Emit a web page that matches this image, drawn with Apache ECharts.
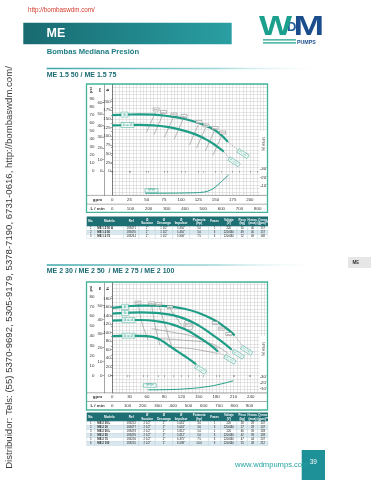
<!DOCTYPE html>
<html><head><meta charset="utf-8">
<script src="https://cdn.jsdelivr.net/npm/echarts/dist/echarts.min.js"></script>
<style>html,body{margin:0;padding:0;background:#fff}#c{width:371px;height:480px}</style>
</head><body><div id="c"></div>
<script>
const FONT='"Liberation Sans", Arial, sans-serif';
const TEAL='#1f9e87', FRAME='#46b49c', GRIDC='#cccccc', DARK='#333';
const FT=3.28084, PSI=1.42233, LPM=3.78541;

// ---------------- Chart 1 : ME 1.5 ----------------
const gpmTicks1=[0,25,50,75,100,125,150,175,200];
const lpmTicks1=[0,100,200,300,400,500,600,700,800];
const psiTicks1=[0,10,20,30,40,50,60,70,80,90];
const mTicks1=[0,10,20,30,40,50,60];
const ftTicks1=[0,25,50,75,100,125,150,175,200];
const npshTicks1=[10,20,30];
const head1_3=[[0,49],[20,49.4],[40,49.6],[60,49.3],[80,48.2],[100,46.3],[120,43.2],[140,38.6],[155,33.2],[168,25.5]];
const head1_12=[[0,40],[20,40.3],[40,40.4],[60,40],[80,38.6],[100,36],[120,32.3],[140,26.4],[152,21.6],[162,17]];
const npsh1=[[48,1.5],[80,1.6],[110,1.9],[130,2.6],[142,5],[150,9],[157,14],[163,18.5],[169,23]];
const tags1=[[17.7,49.4,'3'],[22,40.3,'1 = 2']];
const effBoxes1=[[63.7,53.9,'50%'],[74.4,51.7,'55%'],[89.7,49.5,'60%'],[104.2,48.2,'63%'],[126,42.9,'65%'],[136.2,39.9,'63%'],[149.3,37.7,'60%'],[160.2,33.7,'55%']];
const effLines1=[[[62.7,51.4],[49.7,33.9]],[[73.4,49.2],[60.4,31.7]],[[88.7,47],[75.7,29.5]],[[103.2,45.7],[90.2,28.2]],[[125,40.4],[112,22.9]],[[135.2,37.4],[122.2,19.9]],[[148.3,35.2],[135.3,17.7]],[[159.2,31.2],[146.2,13.7]]];
const impLabels1=[[190,15.2,'Ø 5.906"'],[177,8.1,'Ø 5.450"']];
const leaders1=[[[168,25.5],[185,17.5]],[[162,17],[172,10]]];
const npshTag1=[[57,4.7,'NPSH']];

// ---------------- Chart 2 : ME 2 ----------------
const gpmTicks2=[0,30,60,90,120,150,180,210,240];
const lpmTicks2=[0,100,200,300,400,500,600,700,800,900];
const psiTicks2=[0,10,20,30,40,50,60,70,80];
const mTicks2=[0,10,20,30,40,50];
const ftTicks2=[0,20,40,60,80,100,120,140,160,180];
const npshTicks2=[10,20,30];
const head2_6=[[0,48.2],[25,49.3],[50,49.8],[75,49.8],[100,49.2],[125,47.5],[150,44.5],[175,39.8],[195,34.5],[212,28.5]];
const head2_5=[[0,44],[25,44.6],[50,44.9],[75,44.6],[100,43.3],[125,40.5],[150,35.5],[175,28.5],[195,22.5],[207,18.2]];
const head2_34=[[0,39],[25,39.4],[50,39.5],[75,38.8],[100,36.8],[125,33],[150,27.2],[170,21.5],[183,17]];
const head2_12=[[0,28],[30,28.3],[60,28],[80,26],[97,21.5],[115,16.5],[130,12.5],[145,8]];
const npsh2=[[62,8],[100,8.5],[130,10],[160,13],[185,17.5],[210,24]];
const tags2=[[22,48.9,'6'],[22,44.5,'5'],[28,39.4,'3 = 4'],[28,28.3,'1 = 2']];
const effBoxes2=[[44.5,51.9,'50%'],[68.3,51.4,'55%'],[80.4,50.8,'60%'],[100,48.8,'65%'],[131.7,36.1,'70%'],[178.5,37.4,'65%'],[188.9,33.3,'60%'],[202,29.5,'55%']];
const effLines2=[
 [[45.1,51],[50.9,38.1],[62.4,25]],
 [[68.2,50.5],[74,35.7],[82.7,21.4]],
 [[80.9,50],[91.3,35.7],[102.9,20.2]],
 [[100,47.6],[120.2,35.7]],
 [[68.2,33.3],[102.9,30.9],[143.3,27.4],[183.8,19]],
 [[79.8,26.2],[126,25],[172.2,22.6],[201.1,15.5]],
 [[97.1,20.2],[137.5,19],[183.8,15.5]],
 [[124,36],[126,39],[132,39.8],[138,38],[140,35],[136,32.5],[130,32.5],[125,34],[124,36]]
];
const impLabels2=[[233,17.8,'Ø 6.598"'],[218.4,15,'Ø 6.375"'],[204,11.4,'Ø 5.812"'],[153,4.3,'Ø 5.061"']];
const leaders2=[[[212,28.5],[228,19.5]],[[207,18.2],[213,16]],[[183,17],[199,12.8]],[[145,8],[149,5.5]]];
const npshTag2=[[65,15.6,'NPSH']];

// ---------------- Tables ----------------
const tableHeaders=['No.','Modelo','Ref','Ø\nSuccion','Ø\nDescarga','Ø\nImpulsor','Potencia\n(hp)','Fases','Voltaje\n(V)','Peso\n(kg)','H max.\n(mca)','Q max\n(gpm)**'];
const models1=['ME 1.5 50 A','ME 1.5 50','ME 1.5 75'];
const refs1=['183471','183470','183261'];
const suction1=['2"','2"','2"'];
const discharge1=['1 1/2"','1 1/2"','1 1/2"'];
const impeller1=['5.450"','5.450"','5.906"'];
const hp1=['5.0','5.0','7.5'];
const phases1=['1','3','3'];
const volts1=['220','220/440','220/440'];
const kg1=['50','49','52'];
const hmax1=['40','40','49'];
const qmax1=['157','157','168'];
const models2=['ME 2 30 L','ME 2 30','ME 2 50 L','ME 2 50','ME 2 75','ME 2 100'];
const refs2=['183252','183477','183478','183476','183256','183255'];
const suction2=['2 1/2"','2 1/2"','2 1/2"','2 1/2"','2 1/2"','2 1/2"'];
const discharge2=['2"','2"','2"','2"','2"','2"'];
const impeller2=['5.061"','5.061"','5.812"','5.812"','6.375"','6.598"'];
const hp2=['3.0','3.0','5.0','5.0','7.5','10.0'];
const phases2=['1','3','1','3','3','3'];
const volts2=['220','220/440','220','220/440','220/440','220/440'];
const kg2=['28','27','46','42','47','55'];
const hmax2=['28','28','39','39','44','48'];
const qmax2=['147','147','183','183','207','212'];

const option={animation:false,backgroundColor:'#fff',grid:[],xAxis:[],yAxis:[],series:[],graphic:[]};
const G=option.graphic;
const lab={fontSize:4.4,color:DARK,fontFamily:FONT};
const tickLS={color:'#555',width:0.5};

function buildChart(C){
  const g=option.grid.length, xb=option.xAxis.length, yb=option.yAxis.length;
  const mMin=C.gMin/C.gF, mMax=C.gMax/C.gF;
  option.grid.push({left:C.left,top:C.top,width:C.width,height:C.height,show:false});
  option.xAxis.push({gridIndex:g,type:'value',min:0,max:C.gpmMax,interval:C.cellX,axisLine:{show:false},axisTick:{show:false},axisLabel:{show:false},splitLine:{show:true,lineStyle:{color:GRIDC,width:0.5}}});
  option.xAxis.push({gridIndex:g,type:'value',position:'bottom',min:0,max:C.gpmMax,axisLine:{show:false},axisTick:{show:true,length:1.5,customValues:C.gpmTicks,lineStyle:tickLS},axisLabel:Object.assign({margin:2.2,customValues:C.gpmTicks},lab),splitLine:{show:false}});
  option.xAxis.push({gridIndex:g,type:'value',position:'bottom',offset:C.rowH,min:0,max:C.gpmMax*LPM,axisLine:{show:false},axisTick:{show:true,length:1.5,customValues:C.lpmTicks,lineStyle:tickLS},axisLabel:Object.assign({margin:2.2,customValues:C.lpmTicks},lab),splitLine:{show:false}});
  option.yAxis.push({gridIndex:g,type:'value',min:mMin,max:mMax,axisLine:{show:false},axisTick:{show:false},axisLabel:{show:false},splitLine:{show:false}});
  option.yAxis.push({gridIndex:g,type:'value',min:C.gMin,max:C.gMax,interval:C.cellY,axisLine:{show:false},axisTick:{show:false},axisLabel:{show:false},splitLine:{show:true,lineStyle:{color:GRIDC,width:0.5}}});
  const la=(off,f,ticks)=>({gridIndex:g,type:'value',position:'left',offset:off,min:mMin*f,max:mMax*f,axisLine:{show:true,lineStyle:{color:'#666',width:0.6}},axisTick:{show:true,length:1.5,customValues:ticks,lineStyle:tickLS},axisLabel:Object.assign({margin:1.6,customValues:ticks},lab),splitLine:{show:false}});
  option.yAxis.push(la(C.psiOff,PSI,C.psiTicks));
  option.yAxis.push(la(C.mOff,1,C.mTicks));
  option.yAxis.push(la(0,FT,C.ftTicks));
  option.yAxis.push({gridIndex:g,type:'value',position:'right',offset:-C.npshOff,min:C.npshMin,max:C.npshMax,z:6,axisLine:{show:false},axisTick:{show:true,length:1.5,customValues:C.npshTicks,lineStyle:tickLS},axisLabel:Object.assign({margin:1.2,customValues:C.npshTicks,formatter:v=>v+"'"},lab),splitLine:{show:false}});
  const X=xb, Y=yb, YN=yb+5;
  C.curves.forEach(d=>option.series.push({type:'line',xAxisIndex:X,yAxisIndex:Y,data:d,smooth:true,symbol:'none',showSymbol:false,lineStyle:{color:TEAL,width:2.2},itemStyle:{color:TEAL},z:3,zlevel:1}));
  option.series.push({type:'line',xAxisIndex:X,yAxisIndex:YN,data:C.npsh,smooth:true,symbol:'none',showSymbol:false,lineStyle:{color:TEAL,width:1},itemStyle:{color:TEAL},z:3,zlevel:1});
  C.effLines.forEach(d=>option.series.push({type:'line',xAxisIndex:X,yAxisIndex:Y,data:d,smooth:0.3,symbol:'none',lineStyle:{color:'#777',width:0.5},z:2}));
  C.leaders.forEach(d=>option.series.push({type:'line',xAxisIndex:X,yAxisIndex:Y,data:d,symbol:'none',lineStyle:{color:'#888',width:0.6,type:[1.5,1]},z:2}));
  const tagSeries=(data,size,color,rot,fs,border)=>({type:'scatter',xAxisIndex:X,yAxisIndex:Y,data,symbol:'rect',symbolSize:size,symbolRotate:rot,z:5,zlevel:1,
    itemStyle:{color:'#fff',borderColor:border,borderWidth:0.5},
    label:{show:true,position:'inside',formatter:p=>p.data[2],fontSize:fs,color:color,fontFamily:FONT,rotate:rot}});
  C.tags.forEach(t=>option.series.push(tagSeries([t],[t[2].length>1?13:7,5],TEAL,0,4.2,TEAL)));
  option.series.push(tagSeries(C.effBoxes,[6,3],'#444',0,2.2,'#666'));
  option.series.push(tagSeries(C.impLabels,[12,4],TEAL,-32,2.4,TEAL));
  option.series.push(Object.assign(tagSeries(C.npshTag,[13,3.5],TEAL,0,2.6,TEAL),{yAxisIndex:YN}));
  const F=C.frame, bottom=C.top+C.height;
  G.push({type:'rect',shape:{x:C.left+C.width-C.npshOff-0.5,y:C.npshBoxTop,width:C.npshOff+0.5,height:bottom-C.npshBoxTop},style:{fill:'#fff'},z:1});
  G.push({type:'text',x:C.left+C.width-C.npshOff+3,y:C.npshTitleY,rotation:-Math.PI/2,style:{text:'NPSH (ft)',fontSize:3.2,fontFamily:FONT,fill:DARK,textAlign:'center',align:'center',textVerticalAlign:'middle',verticalAlign:'middle'},z:7});
  [bottom,bottom+C.rowH].forEach(yy=>G.push({type:'line',shape:{x1:F[0],y1:yy,x2:F[0]+F[2],y2:yy},style:{stroke:'#777',lineWidth:0.6},z:8}));
  G.push({type:'text',x:F[0]+11,y:bottom+C.rowH/2,style:{text:'gpm',fontSize:4.4,fontWeight:'bold',fontFamily:FONT,fill:DARK,textAlign:'center',align:'center',textVerticalAlign:'middle',verticalAlign:'middle'},z:8});
  G.push({type:'text',x:F[0]+11,y:bottom+C.rowH*1.5,style:{text:'L / min',fontSize:4.4,fontWeight:'bold',fontFamily:FONT,fill:DARK,textAlign:'center',align:'center',textVerticalAlign:'middle',verticalAlign:'middle'},z:8});
  [['psi',F[0]+4.7],['m',F[0]+13.5],['ft',F[0]+21.5]].forEach(h=>G.push({type:'text',x:h[1],y:C.top+6,rotation:Math.PI/2,style:{text:h[0],fontSize:4,fontWeight:'bold',fontFamily:FONT,fill:DARK,textAlign:'center',align:'center',textVerticalAlign:'middle',verticalAlign:'middle'},z:8}));
  G.push({type:'rect',shape:{x:F[0],y:F[1],width:F[2],height:F[3]},style:{fill:'none',stroke:FRAME,lineWidth:1.3},z:9});
}

buildChart({left:112.3,top:84,width:154.8,height:111.4,gpmMax:225,cellX:5,gMin:-70,gMax:250,gF:FT,cellY:10,
  rowH:8.8,psiOff:16.3,mOff:8.3,npshOff:7,npshMin:-1.06,npshMax:130,npshBoxTop:131,npshTitleY:144,
  frame:[86.5,84,181,128.3],
  gpmTicks:gpmTicks1,lpmTicks:lpmTicks1,psiTicks:psiTicks1,mTicks:mTicks1,ftTicks:ftTicks1,npshTicks:npshTicks1,
  curves:[head1_3,head1_12],effLines:effLines1,leaders:leaders1,npsh:npsh1,tags:tags1,effBoxes:effBoxes1,impLabels:impLabels1,npshTag:npshTag1});
buildChart({left:112.3,top:282.55,width:154.6,height:110.25,gpmMax:268,cellX:6,gMin:-12.5,gMax:66.25,gF:1,cellY:2.5,
  rowH:8.7,psiOff:16.3,mOff:8.3,npshOff:7,npshMin:2.8,npshMax:196.2,npshBoxTop:336,npshTitleY:349,
  frame:[86.5,282,181,128],
  gpmTicks:gpmTicks2,lpmTicks:lpmTicks2,psiTicks:psiTicks2,mTicks:mTicks2,ftTicks:ftTicks2,npshTicks:npshTicks2,
  curves:[head2_6,head2_5,head2_34,head2_12],effLines:effLines2,leaders:leaders2,npsh:npsh2,tags:tags2,effBoxes:effBoxes2,impLabels:impLabels2,npshTag:npshTag2});

const colW=[25,88,47,50,53,52,58,37,50,32,31,32];
function drawTable(x0,y0,totalW,headH,rowH,cols){
  const sum=colW.reduce((a,b)=>a+b,0);
  const ws=colW.map(w=>w/sum*totalW);
  let x=x0;
  G.push({type:'rect',shape:{x:x0,y:y0,width:totalW,height:headH},style:{fill:'#1e6f74'},z:2});
  ws.forEach((w,i)=>{
    G.push({type:'text',x:x+w/2,y:y0+headH/2,style:{text:tableHeaders[i],fontSize:3,lineHeight:3.4,fontWeight:'bold',fontFamily:FONT,fill:'#fff',textAlign:'center',align:'center',textVerticalAlign:'middle',verticalAlign:'middle'},z:3});
    x+=w;
  });
  const n=cols[0].length;
  for(let r=0;r<n;r++){
    const yy=y0+headH+r*rowH;
    const vals=[String(r+1)].concat(cols.map(c=>c[r]));
    let xx=x0;
    ws.forEach((w,i)=>{
      G.push({type:'rect',shape:{x:xx,y:yy,width:w,height:rowH},style:{fill:r%2?'#d9e8ee':'#ffffff',stroke:'#a9c6cf',lineWidth:0.3},z:2});
      const left=i===1;
      G.push({type:'text',x:left?xx+2.5:xx+w/2,y:yy+rowH/2,style:{text:vals[i],fontSize:2.8,fontWeight:left?'bold':'normal',fontFamily:FONT,fill:'#222',textAlign:left?'left':'center',align:left?'left':'center',textVerticalAlign:'middle',verticalAlign:'middle'},z:3});
      xx+=w;
    });
  }
}
drawTable(86.7,216.5,181.3,10,4,[models1,refs1,suction1,discharge1,impeller1,hp1,phases1,volts1,kg1,hmax1,qmax1]);
drawTable(86.7,412.5,181.3,9,4,[models2,refs2,suction2,discharge2,impeller2,hp2,phases2,volts2,kg2,hmax2,qmax2]);

const T=(x,y,text,o)=>G.push(Object.assign({type:'text',x,y,z:(o.el&&o.el.z)||4,style:Object.assign({text,fontFamily:FONT,textAlign:'left',align:'left',textVerticalAlign:'middle',verticalAlign:'middle'},o.style||{})},o.el||{}));
T(28,10.5,'http://bombaswdm.com/',{style:{fontSize:6.3,fill:'#d23a2c'}});
G.push({type:'rect',shape:{x:23.3,y:22.7,width:208.4,height:21.6},style:{fill:new echarts.graphic.LinearGradient(0,0,1,0,[{offset:0,color:'#176a70'},{offset:1,color:'#2a9fa3'}])},z:1});
T(46.5,33.5,'ME',{style:{fontSize:12.5,fontWeight:'bold',fill:'#fff'},el:{z:5}});
T(46.7,51.5,'Bombas Mediana Presión',{style:{fontSize:7.6,fontWeight:'bold',fill:'#1f7d84'}});
T(259,27.5,'W',{style:{fontSize:27,fontWeight:'bold',fill:'#1ba08e'},el:{scaleX:1.3,originX:0,originY:0,z:4}});
T(287,27,'D',{style:{fontSize:13,fontWeight:'bold',fill:'#1c5c98'},el:{z:3}});
T(293.5,27.5,'M',{style:{fontSize:27,fontWeight:'bold',fill:'#1b4d8c'},el:{scaleX:1.36,originX:0,originY:0,z:4}});
G.push({type:'rect',shape:{x:263,y:39.3,width:33,height:1.3},style:{fill:'#1ba08e'}});
G.push({type:'rect',shape:{x:263,y:42.3,width:33,height:1.3},style:{fill:'#1ba08e'}});
T(297,42.5,'PUMPS',{style:{fontSize:5.3,fontWeight:'bold',fill:'#1b4d8c'}});
[[68.5,330],[265,325]].forEach(r=>G.push({type:'rect',shape:{x:46.7,y:r[0]-0.7,width:r[1]-46.7,height:1.4},style:{fill:new echarts.graphic.LinearGradient(0,0,1,0,[{offset:0,color:'#3aa6ab'},{offset:0.6,color:'#9fd6d8'},{offset:1,color:'rgba(255,255,255,0)'}])}}));
T(46.7,75.5,'ME 1.5 50 / ME 1.5 75',{style:{fontSize:7,fontWeight:'bold',fill:'#1b6b72'}});
T(46.7,271.5,'ME 2 30 / ME 2 50  / ME 2 75 / ME 2 100',{style:{fontSize:7,fontWeight:'bold',fill:'#1b6b72'}});
G.push({type:'rect',shape:{x:348,y:257,width:23,height:11},style:{fill:'#e6e6e6'}});
T(352.5,262.5,'ME',{style:{fontSize:4.5,fontWeight:'bold',fill:'#333'}});
T(235,464.5,'www.wdmpumps.com',{style:{fontSize:7.6,fill:'#24a3a0'}});
G.push({type:'rect',shape:{x:301.7,y:450,width:23.3,height:30},style:{fill:'#1d9098'}});
T(313.3,462,'39',{style:{fontSize:6.5,fill:'#fff',textAlign:'center',align:'center'},el:{z:5}});
G.push({type:'text',x:9,y:267.5,rotation:Math.PI/2,style:{text:'Distribuidor: Tels: (55) 5370-9692, 5305-9179, 5378-7190, 6731-0616, http://bombaswdm.com/',fontSize:9.6,fontFamily:FONT,fill:'#3a3a3a',textAlign:'center',align:'center',textVerticalAlign:'middle',verticalAlign:'middle'}});

const chart=echarts.init(document.getElementById('c'),null,{renderer:'canvas'});
chart.setOption(option);
</script></body></html>
